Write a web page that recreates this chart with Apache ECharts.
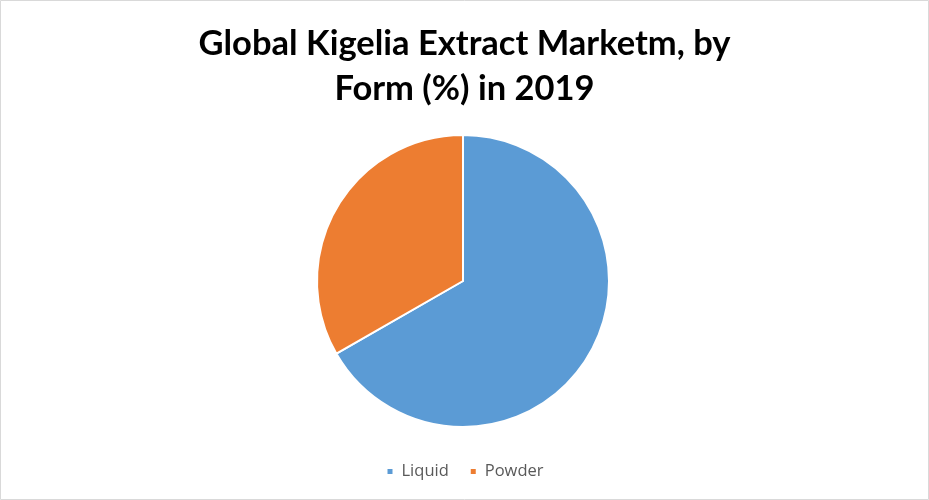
<!DOCTYPE html>
<html>
<head>
<meta charset="utf-8">
<script src="https://cdn.jsdelivr.net/npm/echarts@6/dist/echarts.min.js"></script>
<style>
html,body{margin:0;padding:0;background:#fff;}
#c{width:929px;height:500px;}
</style>
</head>
<body>
<div id="c"></div>
<script>
const titleText = 'Global Kigelia Extract Marketm, by\nForm (%) in 2019';
const categories = ['Liquid', 'Powder'];
const values = [66.7, 33.3];
const colors = ['#5B9BD5', '#ED7D31'];

const chart = echarts.init(document.getElementById('c'));
chart.setOption({
  animation: false,
  backgroundColor: '#fff',
  color: colors,
  title: {
    text: titleText,
    left: 'center',
    top: 16,
    textStyle: {
      fontFamily: 'Lato',
      fontWeight: 'bold',
      fontSize: 34.5,
      lineHeight: 45,
      color: '#000'
    }
  },
  legend: {
    data: categories,
    top: 458,
    left: 470,
    align: 'left',
    icon: 'rect',
    itemWidth: 7,
    itemHeight: 7,
    itemGap: 20,
    textStyle: { fontFamily: 'Open Sans', fontSize: 16.5, color: '#595959', padding: [0, 0, 0, 3] }
  },
  graphic: [{
    type: 'rect',
    shape: { x: 0.5, y: 0.5, width: 928, height: 499 },
    style: { fill: 'none', stroke: '#d9d9d9', lineWidth: 1 },
    silent: true
  }],
  series: [{
    type: 'pie',
    center: [463, 281],
    radius: [0, 146],
    startAngle: 90,
    clockwise: true,
    label: { show: false },
    labelLine: { show: false },
    itemStyle: { borderColor: '#fff', borderWidth: 2 },
    data: categories.map((n, i) => ({ name: n, value: values[i] }))
  }]
});
chart.setOption({ legend: { left: 'center' } });
</script>
</body>
</html>
